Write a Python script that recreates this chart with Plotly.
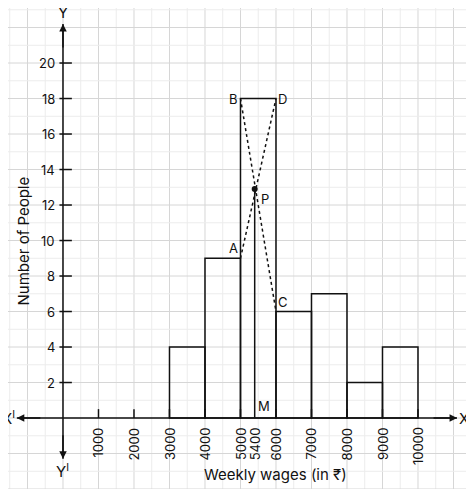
import plotly.graph_objects as go

bin_starts = [3000, 4000, 5000, 6000, 7000, 8000, 9000]
counts = [4, 9, 18, 6, 7, 2, 4]
x_ticks = [1000, 2000, 3000, 4000, 5000, 5400, 6000, 7000, 8000, 9000, 10000]
y_ticks = [2, 4, 6, 8, 10, 12, 14, 16, 18, 20]
mode_x = 5400
mode_y = 12.9

# page has an 8px body margin, so the ranges are shifted to compensate
xmin, xmax = -1549, 11803
ymin, ymax = -4.45, 23.1
blk = "#111"

fig = go.Figure()

# histogram bars
fig.add_trace(go.Bar(x=[b + 500 for b in bin_starts], y=counts, width=1000,
                     marker=dict(color="rgba(0,0,0,0)", line=dict(color=blk, width=1.5)),
                     hoverinfo="skip"))

shapes = []
# grid
g = -1500
while g <= 12000:
    shapes.append(dict(type="line", x0=g, x1=g, y0=ymin, y1=ymax, layer="below",
                       line=dict(color="#d6d6d6" if g % 1000 == 0 else "#ececec", width=1)))
    g += 500
g = -5
while g <= 24:
    shapes.append(dict(type="line", x0=xmin, x1=xmax, y0=g, y1=g, layer="below",
                       line=dict(color="#d6d6d6" if g % 2 == 0 else "#ececec", width=1)))
    g += 1

# axes
shapes.append(dict(type="line", x0=-1300, x1=11100, y0=0, y1=0, line=dict(color=blk, width=1.5)))
shapes.append(dict(type="line", x0=0, x1=0, y0=-2.3, y1=22.2, line=dict(color=blk, width=1.5)))
for t in x_ticks:
    if t != mode_x:
        shapes.append(dict(type="line", x0=t, x1=t, y0=0, y1=0.5, line=dict(color=blk, width=1.5)))
for t in y_ticks:
    shapes.append(dict(type="line", x0=-100, x1=250, y0=t, y1=t, line=dict(color=blk, width=1.5)))

# mode construction
shapes.append(dict(type="line", x0=5000, y0=18, x1=6000, y1=6, line=dict(color=blk, width=1.5, dash="dot")))
shapes.append(dict(type="line", x0=5000, y0=9, x1=6000, y1=18, line=dict(color=blk, width=1.5, dash="dot")))
shapes.append(dict(type="line", x0=mode_x, y0=0, x1=mode_x, y1=mode_y, line=dict(color=blk, width=1.5)))

fig.add_trace(go.Scatter(x=[mode_x], y=[mode_y], mode="markers",
                         marker=dict(color=blk, size=6), hoverinfo="skip"))

ann = []
f = dict(family="Inter, Roboto, sans-serif", size=13, color=blk)
for t in x_ticks:
    ann.append(dict(x=t, y=-0.4, text=str(t), textangle=-90, showarrow=False,
                    xanchor="center", yanchor="top", font=f))
for t in y_ticks:
    ann.append(dict(x=-180, y=t, text=str(t), showarrow=False, xanchor="right",
                    yanchor="middle", font=f))
pts = [("B", 5000, 18, "right", "middle"), ("D", 6000, 18, "left", "middle"),
       ("A", 5000, 9, "right", "bottom"), ("C", 6000, 6, "left", "bottom"),
       ("P", mode_x + 120, mode_y, "left", "top"), ("M", mode_x + 50, 0.1, "left", "bottom")]
for name, x, y, xa, ya in pts:
    ann.append(dict(x=x, y=y, text=name, showarrow=False, xanchor=xa, yanchor=ya, font=f))
big = dict(family="Inter, Roboto, sans-serif", size=15, color=blk)
ann += [
    dict(x=0, y=22.2, text="Y", showarrow=False, yanchor="bottom", font=big),
    dict(x=0, y=-2.3, text="Y<sup>I</sup>", showarrow=False, yanchor="top", font=big),
    dict(x=-1300, y=0, text="X<sup>I</sup>", showarrow=False, xanchor="right", font=big),
    dict(x=11100, y=0, text="X", showarrow=False, xanchor="left", font=big),
    dict(x=6000, y=-3.2, text="Weekly wages (in ₹)", showarrow=False, yanchor="middle", font=big),
    dict(x=-1100, y=10, text="Number of People", textangle=-90, showarrow=False, font=big),
]
# arrow heads
for x, y, ax, ay in [(11100, 0, -25, 0), (-1300, 0, 25, 0), (0, 22.2, 0, 25), (0, -2.3, 0, -25)]:
    ann.append(dict(x=x, y=y, ax=ax, ay=ay, text="", showarrow=True, arrowhead=2,
                    arrowsize=1, arrowwidth=1.5, arrowcolor=blk))

fig.update_layout(width=474, height=489, margin=dict(l=0, r=0, t=0, b=0),
                  plot_bgcolor="white", paper_bgcolor="white", showlegend=False,
                  shapes=shapes, annotations=ann,
                  xaxis=dict(range=[xmin, xmax], visible=False, fixedrange=True),
                  yaxis=dict(range=[ymin, ymax], visible=False, fixedrange=True))
fig.write_html("out.html")
